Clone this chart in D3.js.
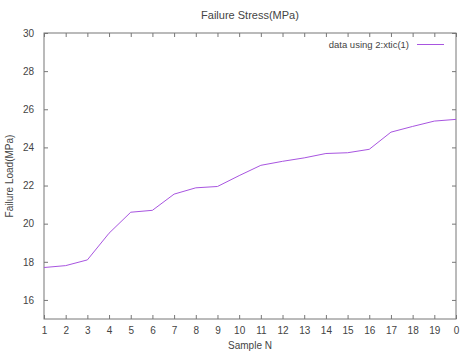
<!DOCTYPE html>
<html>
<head>
<meta charset="utf-8">
<script src="https://cdn.jsdelivr.net/npm/d3@7"></script>
<style>
  body { margin: 0; background: #fff; }
  svg text { font-family: "Liberation Sans", Arial, sans-serif; fill: #444; }
</style>
</head>
<body>
<script>
var width = 474;
var height = 355;

// data
var samples = [1, 2, 3, 4, 5, 6, 7, 8, 9, 10, 11, 12, 13, 14, 15, 16, 17, 18, 19, 20];
var xTickLabels = ['1', '2', '3', '4', '5', '6', '7', '8', '9', '10', '11', '12', '13', '14', '15', '16', '17', '18', '19', '0'];
var stress = [17.7, 17.8, 18.1, 19.5, 20.6, 20.7, 21.55, 21.88, 21.95, 22.52, 23.06, 23.27, 23.45, 23.68, 23.72, 23.9, 24.8, 25.1, 25.38, 25.47];
var yTicks = [16, 18, 20, 22, 24, 26, 28, 30];

var margin = { left: 44, right: 18, top: 33, bottom: 36 };

var svg = d3.select('body').append('svg').attr('width', width).attr('height', height);

var x = d3.scaleLinear().domain([1, 20]).range([margin.left, width - margin.right]);
var y = d3.scaleLinear().domain([15, 30]).range([height - margin.bottom, margin.top]);

var axisColor = '#777';
var tickLen = 4;

// bottom axis (ticks inside) + labels
var xb = svg.append('g').attr('transform', 'translate(0,' + y(15) + ')')
  .call(d3.axisBottom(x).tickValues(samples).tickSize(-tickLen).tickPadding(8)
    .tickFormat(function (d, i) { return xTickLabels[i]; }));
// top mirror ticks
var xt = svg.append('g').attr('transform', 'translate(0,' + y(30) + ')')
  .call(d3.axisTop(x).tickValues(samples).tickSize(-tickLen).tickFormat(''));
// left axis
var yl = svg.append('g').attr('transform', 'translate(' + x(1) + ',0)')
  .call(d3.axisLeft(y).tickValues(yTicks).tickSize(-tickLen).tickPadding(10).tickFormat(d3.format('d')));
// right mirror
var yr = svg.append('g').attr('transform', 'translate(' + x(20) + ',0)')
  .call(d3.axisRight(y).tickValues(yTicks).tickSize(-tickLen).tickFormat(''));

[xb, xt, yl, yr].forEach(function (g) {
  g.select('.domain').remove();
  g.selectAll('line').attr('stroke', axisColor);
  g.selectAll('text').style('font-size', '10px').attr('fill', '#555');
});

// frame
svg.append('rect')
  .attr('x', x(1)).attr('y', y(30))
  .attr('width', x(20) - x(1)).attr('height', y(15) - y(30))
  .attr('fill', 'none').attr('stroke', axisColor).attr('stroke-width', 1);

var lineColor = '#a855e0';

var line = d3.line()
  .x(function (d, i) { return x(samples[i]); })
  .y(function (d) { return y(d); });

svg.append('path').datum(stress)
  .attr('d', line)
  .attr('fill', 'none')
  .attr('stroke', lineColor)
  .attr('stroke-width', 1);

// title
svg.append('text').attr('x', (x(1) + x(20)) / 2).attr('y', 19)
  .attr('text-anchor', 'middle').style('font-size', '11px').text('Failure Stress(MPa)');

// axis labels
svg.append('text').attr('x', (x(1) + x(20)) / 2).attr('y', 349)
  .attr('text-anchor', 'middle').style('font-size', '10px').text('Sample N');
svg.append('text').attr('transform', 'translate(13,' + y(22.5) + ') rotate(-90)')
  .attr('text-anchor', 'middle').style('font-size', '10px').text('Failure Load(MPa)');

// legend
svg.append('text').attr('x', 409).attr('y', 48)
  .attr('text-anchor', 'end').style('font-size', '9.5px').text('data using 2:xtic(1)');
svg.append('line').attr('x1', 417).attr('x2', 444).attr('y1', 44.5).attr('y2', 44.5)
  .attr('stroke', lineColor).attr('stroke-width', 1);
</script>
</body>
</html>
